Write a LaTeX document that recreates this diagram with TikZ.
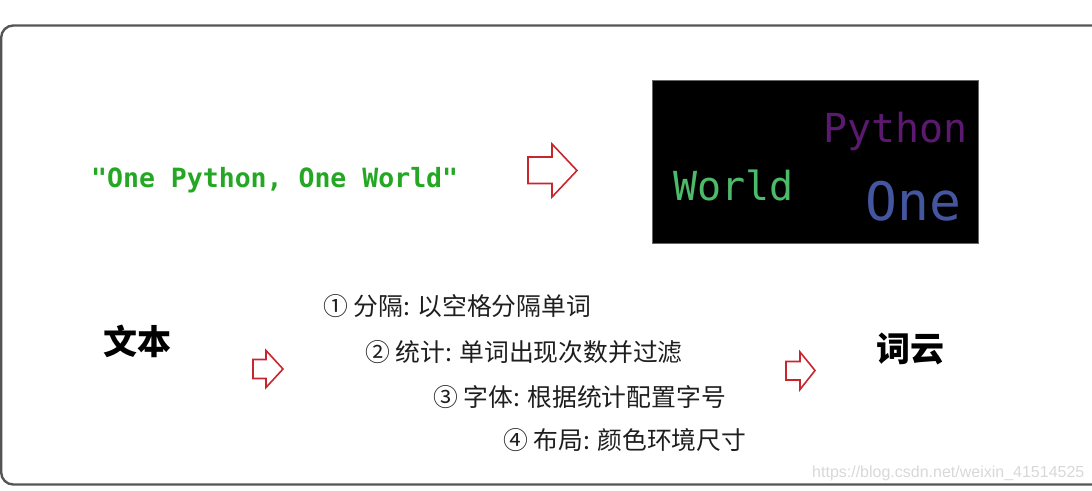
\documentclass[tikz,border=0pt]{standalone}
\usepackage{fontspec}
\setmainfont{Liberation Sans}
\newfontfamily\cjk{Noto Sans CJK SC}
\newfontfamily\monofont{DejaVu Sans Mono}
\definecolor{framegray}{HTML}{555555}
\definecolor{strgreen}{HTML}{24A824}
\definecolor{arrowred}{HTML}{C8262C}
\definecolor{wcpurple}{HTML}{5B1A70}
\definecolor{wcgreen}{HTML}{4DBA6A}
\definecolor{wcblue}{HTML}{4556A0}
\definecolor{steptext}{HTML}{1E1E1E}
\definecolor{wmgray}{HTML}{D8D8D8}
\tikzset{
  arrowline/.style={draw=arrowred, line width=1.6pt, line join=miter},
  wcword/.style={inner sep=0pt, anchor=base west},
  stepline/.style={inner sep=0pt, anchor=base west, text=steptext, font=\cjk\fontsize{24.8}{26}\selectfont},
  bigword/.style={inner sep=0pt, font=\cjk\bfseries\fontsize{34}{36}\selectfont}
}
\begin{document}
\begin{tikzpicture}[x=1pt, y=-1pt]
\useasboundingbox (0,0) rectangle (1092,490);
\clip (0,0) rectangle (1092,490);
% outer frame
\draw[framegray, line width=2.4pt, rounded corners=12pt] (1.2,25.5) rectangle (1120,484.5);
% input string
\node[inner sep=0pt, anchor=base west, text=strgreen, font=\monofont\bfseries\fontsize{26.5}{28}\selectfont] (str) at (91,187) {"One Python, One World"};
% big arrow
\draw[arrowline] (528,157) -- (552,157) -- (552,144) -- (577,170.5) -- (552,197) -- (552,183.5) -- (528,183.5) -- cycle;
% word cloud
\node[fill=black, draw=black!60, line width=0.6pt, minimum width=326pt, minimum height=163pt, inner sep=0pt, anchor=north west] (cloud) at (652,79.5) {};
\node[wcword, text=wcpurple, font=\monofont\fontsize{40}{42}\selectfont] (wpy) at (823,142) {Python};
\node[wcword, text=wcgreen, font=\monofont\fontsize{40}{42}\selectfont] (wwo) at (673,200) {World};
\node[wcword, text=wcblue, font=\monofont\fontsize{53}{55}\selectfont] (wone) at (865,220) {One};
% bottom row
\node[bigword] (wenben) at (137,341) {文本};
\draw[arrowline] (253,359.5) -- (266,359.5) -- (266,350.5) -- (283,369) -- (266,387.5) -- (266,378.5) -- (253,378.5) -- cycle;
\node[stepline] (s1) at (323,315) {① 分隔: 以空格分隔单词};
\node[stepline] (s2) at (365,361) {② 统计: 单词出现次数并过滤};
\node[stepline] (s3) at (433,406) {③ 字体: 根据统计配置字号};
\node[stepline] (s4) at (503,449) {④ 布局: 颜色环境尺寸};
\draw[arrowline] (786,361.5) -- (800,361.5) -- (800,352) -- (815,370.5) -- (800,389.5) -- (800,380) -- (786,380) -- cycle;
\node[bigword] (ciyun) at (910,349) {词云};
% watermark
\node[inner sep=0pt, anchor=base west, text=wmgray, font=\fontsize{16}{18}\selectfont] (wm) at (812,477) {https://blog.csdn.net/weixin\_41514525};
\end{tikzpicture}
\end{document}
